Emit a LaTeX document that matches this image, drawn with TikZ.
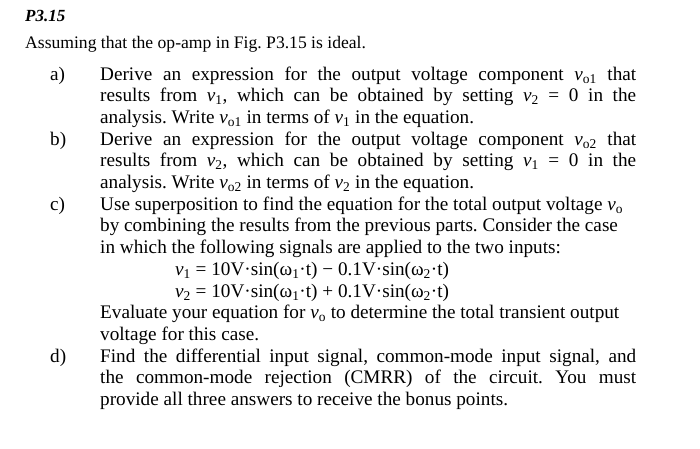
\documentclass[tikz,border=0pt]{standalone}
\usepackage{fontspec}
\setmainfont{Liberation Serif}
\frenchspacing
\newcommand{\vv}[1]{\textit{v}\textsubscript{#1}}
\begin{document}
\begin{tikzpicture}[x=1pt,y=-1pt,
  para/.style={anchor=base west,inner sep=0pt,text width=536pt,align=justify,font=\fontsize{19.2}{21.7}\selectfont\frenchspacing},
  line/.style={anchor=base west,inner sep=0pt,font=\fontsize{19.2}{21.7}\selectfont}]
\useasboundingbox (0,0) rectangle (700,448);
\node[line,font=\fontsize{17}{20}\selectfont\bfseries\itshape] (t) at (25,21) {P3.15};
\node[line,font=\fontsize{17.6}{22}\selectfont] (intro) at (25,48) {Assuming that the op-amp in Fig. P3.15 is ideal.};
\node[line] (la) at (50,80) {a)};
\node[para] (pa) at (100,80) {Derive an expression for the output voltage component \vv{o1} that\linebreak results from \vv{1}, which can be obtained by setting \vv{2} = 0 in the\linebreak analysis. Write \vv{o1} in terms of \vv{1} in the equation.};
\node[line] (lb) at (50,145.1) {b)};
\node[para] (pb) at (100,145.1) {Derive an expression for the output voltage component \vv{o2} that\linebreak results from \vv{2}, which can be obtained by setting \vv{1} = 0 in the\linebreak analysis. Write \vv{o2} in terms of \vv{2} in the equation.};
\node[line] (lc) at (50,210.2) {c)};
\node[line] (pc1) at (100,210.2) {Use superposition to find the equation for the total output voltage \vv{o}};
\node[line] (pc2) at (100,231.9) {by combining the results from the previous parts. Consider the case};
\node[line] (pc3) at (100,253.6) {in which the following signals are applied to the two inputs:};
\node[line] (e1) at (175,275.3) {\vv{1} = 10V·sin(ω\textsubscript{1}·t) − 0.1V·sin(ω\textsubscript{2}·t)};
\node[line] (e2) at (175,297) {\vv{2} = 10V·sin(ω\textsubscript{1}·t) + 0.1V·sin(ω\textsubscript{2}·t)};
\node[line] (pc4) at (100,318.7) {Evaluate your equation for \vv{o} to determine the total transient output};
\node[line] (pc5) at (100,340.4) {voltage for this case.};
\node[line] (ld) at (50,362.1) {d)};
\node[para] (pd) at (100,362.1) {Find the differential input signal, common-mode input signal, and\linebreak the common-mode rejection (CMRR) of the circuit. You must\linebreak provide all three answers to receive the bonus points.};
\end{tikzpicture}
\end{document}
